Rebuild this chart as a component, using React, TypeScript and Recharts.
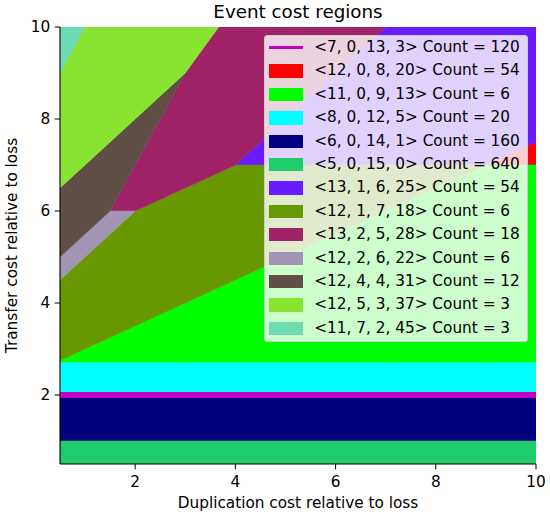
import React from "react";
import { ComposedChart, Area, Line, XAxis, YAxis, Legend } from "recharts";

// breakpoints along the duplication-cost axis
const xs = [0.5, 1, 1.5, 2, 3, 3.667, 4, 7, 9, 10];
const xTicks = [2, 4, 6, 8, 10];
const yTicks = [2, 4, 6, 8, 10];

const lineName = "<7, 0, 13, 3>";
const lineCount = 120;
const lineLevel = [2, 2, 2, 2, 2, 2, 2, 2, 2, 2];
const lineColor = "#c400c4";

const regionNames = [
  "<12, 0, 8, 20>",
  "<11, 0, 9, 13>",
  "<8, 0, 12, 5>",
  "<6, 0, 14, 1>",
  "<5, 0, 15, 0>",
  "<13, 1, 6, 25>",
  "<12, 1, 7, 18>",
  "<13, 2, 5, 28>",
  "<12, 2, 6, 22>",
  "<12, 4, 4, 31>",
  "<12, 5, 3, 37>",
  "<11, 7, 2, 45>",
];
const regionCounts = [54, 6, 20, 160, 640, 54, 6, 18, 6, 12, 3, 3];
const regionColors = [
  "#ff0000",
  "#00ff00",
  "#00ffff",
  "#000080",
  "#1ecc6b",
  "#6a1bff",
  "#679800",
  "#a02367",
  "#a294b5",
  "#604f47",
  "#88e431",
  "#6edcb3",
];

const _ = null;
// lower / upper edge of each region at every breakpoint (null = region absent)
const regionLow = [
  [_, _, _, _, _, _, _, _, 7, 7],
  [2.7, 2.7, 2.7, 2.7, 2.7, 2.7, 2.7, 2.7, 2.7, 2.7],
  [2, 2, 2, 2, 2, 2, 2, 2, 2, 2],
  [1, 1, 1, 1, 1, 1, 1, 1, 1, 1],
  [0.5, 0.5, 0.5, 0.5, 0.5, 0.5, 0.5, 0.5, 0.5, 0.5],
  [_, _, _, _, _, _, 7, 7, 7, 7.5],
  [2.75, 3, 3.25, 3.5, 4, 4.33, 4.5, 6, 7, _],
  [_, _, 6, 6, 6.5, 6.83, 7, 10, _, _],
  [4.5, 5, 5.5, 6, _, _, _, _, _, _],
  [5, 5.5, 6, 7, 9, _, _, _, _, _],
  [6.5, 7, 7.5, 8, 9, 10, _, _, _, _],
  [9, 10, _, _, _, _, _, _, _, _],
];
const regionHigh = [
  [_, _, _, _, _, _, _, _, 7, 7.5],
  [2.75, 3, 3.25, 3.5, 4, 4.33, 4.5, 6, 7, 7],
  [2.7, 2.7, 2.7, 2.7, 2.7, 2.7, 2.7, 2.7, 2.7, 2.7],
  [2, 2, 2, 2, 2, 2, 2, 2, 2, 2],
  [1, 1, 1, 1, 1, 1, 1, 1, 1, 1],
  [_, _, _, _, _, _, 7, 10, 10, 10],
  [4.5, 5, 5.5, 6, 6.5, 6.83, 7, 7, 7, _],
  [_, _, 6, 7, 9, 10, 10, 10, _, _],
  [5, 5.5, 6, 6, _, _, _, _, _, _],
  [6.5, 7, 7.5, 8, 9, _, _, _, _, _],
  [9, 10, 10, 10, 10, 10, _, _, _, _],
  [10, 10, _, _, _, _, _, _, _, _],
];

const rows = xs.map((x, i) => {
  const row: any = { x, line: lineLevel[i] };
  regionNames.forEach((_n, r) => {
    const lo = regionLow[r][i];
    const hi = regionHigh[r][i];
    row["r" + r] = lo == null || hi == null ? null : [lo, hi];
  });
  return row;
});

const font = "DejaVu Sans";

const LegendBox = () => (
  <div
    style={{
      boxSizing: "border-box",
      width: 264.3,
      height: 307.3,
      background: "rgba(255,255,255,0.8)",
      border: "1px solid #cccccc",
      borderRadius: 3,
      fontFamily: font,
      fontSize: 15.3,
      color: "#000",
    }}
  >
    <div style={{ display: "flex", alignItems: "center", height: 23.4 }}>
      <div style={{ marginLeft: 3.7, width: 34, height: 2.6, background: lineColor }} />
      <span style={{ marginLeft: 11.6, whiteSpace: "nowrap", lineHeight: 1 }}>
        {lineName} Count = {lineCount}
      </span>
    </div>
    {regionNames.map((name, r) => (
      <div key={name} style={{ display: "flex", alignItems: "center", height: 23.4 }}>
        <div style={{ marginLeft: 3.7, width: 34, height: 13.3, background: regionColors[r] }} />
        <span style={{ marginLeft: 11.6, whiteSpace: "nowrap", lineHeight: 1 }}>
          {name} Count = {regionCounts[r]}
        </span>
      </div>
    ))}
  </div>
);

const XLabel = (props: any) => {
  const vb = props.viewBox ?? { x: 60, y: 464, width: 476, height: 51 };
  return (
    <text x={vb.x + vb.width / 2} y={vb.y + vb.height - 6.7} textAnchor="middle" fontFamily={font} fontSize={15.3} fill="#000">
      Duplication cost relative to loss
    </text>
  );
};

const YLabel = (props: any) => {
  const vb = props.viewBox ?? { x: 0, y: 27, width: 60, height: 437 };
  const cx = vb.x + 17.3;
  const cy = vb.y + vb.height / 2;
  return (
    <text x={cx} y={cy} transform={`rotate(-90, ${cx}, ${cy})`} textAnchor="middle" fontFamily={font} fontSize={15.3} fill="#000">
      Transfer cost relative to loss
    </text>
  );
};

const tickStyle = { fill: "#000", fontSize: 15.3, fontFamily: font };

export default function App() {
  return (
    <div style={{ position: "absolute", left: 0, top: 0, width: 550, height: 515, background: "#fff" }}>
      <div
        style={{
          position: "absolute",
          left: 60,
          top: 2.8,
          width: 476,
          textAlign: "center",
          fontFamily: font,
          fontSize: 18.3,
          lineHeight: "18.3px",
          color: "#000",
        }}
      >
        Event cost regions
      </div>
      <ComposedChart width={550} height={515} data={rows} margin={{ top: 27, right: 14, bottom: 0, left: 0 }}>
        <XAxis
          dataKey="x"
          type="number"
          domain={[0.5, 10]}
          ticks={xTicks}
          interval={0}
          allowDataOverflow
          height={51}
          tickSize={5.35}
          tickMargin={7}
          tick={tickStyle}
          tickLine={{ stroke: "#000" }}
          axisLine={{ stroke: "#000", strokeWidth: 1.1 }}
          label={{ content: XLabel }}
        />
        <XAxis
          xAxisId="top"
          orientation="top"
          dataKey="x"
          type="number"
          domain={[0.5, 10]}
          height={0}
          tick={false}
          tickLine={false}
          axisLine={{ stroke: "#000", strokeWidth: 1.1 }}
        />
        <YAxis
          type="number"
          domain={[0.5, 10]}
          ticks={yTicks}
          interval={0}
          allowDataOverflow
          width={60}
          tickSize={5.35}
          tickMargin={4.5}
          tick={tickStyle}
          tickLine={{ stroke: "#000" }}
          axisLine={{ stroke: "#000", strokeWidth: 1.1 }}
          label={{ content: YLabel }}
        />
        <YAxis
          yAxisId="right"
          orientation="right"
          type="number"
          domain={[0.5, 10]}
          width={0}
          tick={false}
          tickLine={false}
          axisLine={{ stroke: "#000", strokeWidth: 1.1 }}
        />
        {regionNames.map((name, r) => (
          <Area
            key={name}
            dataKey={"r" + r}
            name={name}
            type="linear"
            fill={regionColors[r]}
            fillOpacity={1}
            stroke={regionColors[r]}
            strokeWidth={0.5}
            dot={false}
            activeDot={false}
            isAnimationActive={false}
          />
        ))}
        <Line
          dataKey="line"
          name={lineName}
          type="linear"
          stroke={lineColor}
          strokeWidth={6}
          dot={false}
          activeDot={false}
          isAnimationActive={false}
        />
        <Legend
          layout="vertical"
          align="center"
          verticalAlign="middle"
          content={LegendBox}
          wrapperStyle={{ left: 264, top: 35, width: 264.3, height: 307.3, margin: 0 }}
        />
      </ComposedChart>
    </div>
  );
}
